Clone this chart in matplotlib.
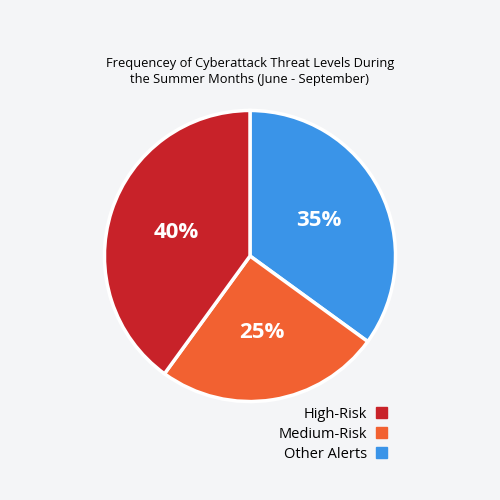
import matplotlib.pyplot as plt
from matplotlib.patches import Patch

plt.rcParams['font.family'] = ['Open Sans', 'DejaVu Sans']

labels = ['Other Alerts', 'Medium-Risk', 'High-Risk']
values = [35, 25, 40]
colors = ['#3a94e8', '#f26131', '#c82229']

fig = plt.figure(figsize=(5, 5), dpi=100, facecolor='#f4f5f7')
ax = fig.add_axes([0.206, 0.194, 0.588, 0.588])
ax.pie(values, colors=colors, startangle=90, counterclock=False,
       autopct='%d%%', pctdistance=0.53,
       wedgeprops=dict(edgecolor='white', linewidth=2.5),
       textprops=dict(color='white', fontsize=16, fontweight='bold'))
ax.set_xlim(-1.01, 1.01)
ax.set_ylim(-1.01, 1.01)
ax.set_aspect('equal')

fig.text(0.5, 0.858, 'Frequencey of Cyberattack Threat Levels During\nthe Summer Months (June - September)',
         ha='center', va='center', fontsize=9.3, linespacing=1.3)

handles = [Patch(color=colors[2], label='High-Risk'),
           Patch(color=colors[1], label='Medium-Risk'),
           Patch(color=colors[0], label='Other Alerts')]
fig.legend(handles=handles, loc='lower right', bbox_to_anchor=(0.8, 0.05),
           frameon=False, markerfirst=False, fontsize=10.5,
           handlelength=0.75, handleheight=0.75, handletextpad=0.6, labelspacing=0.35)

fig.savefig('out.png', facecolor=fig.get_facecolor())
